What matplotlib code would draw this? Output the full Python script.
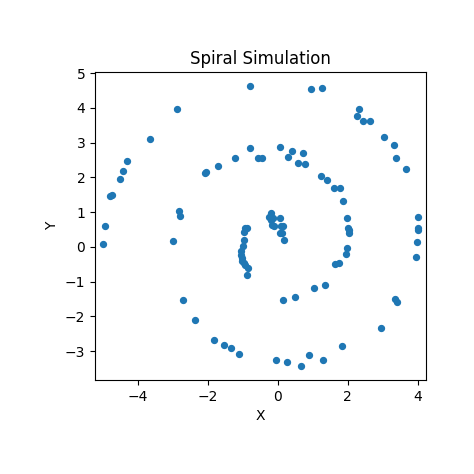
import numpy as np
import matplotlib
matplotlib.use("Agg")
import matplotlib.pyplot as plt

# outer arm of the spiral
outer_x = [-0.80, 0.94, 1.27, 2.32, 2.27, 2.45, 2.64, 3.05, 3.33, 3.38, 3.67,
           4.01, 4.00, 4.00, 3.97, 3.94, 3.36, 3.41, 2.95, 1.83, 1.29, 0.90,
           0.67, 0.26, -0.04, -1.11, -1.33, -1.53, -1.82, -2.36, -2.71,
           -2.87, -3.64, -4.31, -4.42, -4.51, -4.80, -4.74, -4.93, -4.98]
outer_y = [4.63, 4.55, 4.58, 3.96, 3.75, 3.62, 3.61, 3.17, 2.93, 2.57, 2.25,
           0.87, 0.54, 0.49, 0.15, -0.29, -1.49, -1.58, -2.32, -2.86, -3.26, -3.11,
           -3.43, -3.30, -3.26, -3.09, -2.90, -2.81, -2.68, -2.10, -1.53,
           3.97, 3.09, 2.48, 2.19, 1.96, 1.45, 1.48, 0.61, 0.07]

# middle arm
mid_x = [-3.00, -2.82, -2.80, -2.07, -2.04, -1.71, -1.23, -0.78, -0.56, -0.44,
         0.06, 0.42, 0.31, 0.72, 0.57, 0.79, 1.23, 1.42, 1.60, 1.78, 1.87,
         1.99, 2.01, 2.03, 2.03, 1.97, 1.94, 1.63, 1.74, 1.34, 1.05, 0.51, 0.15]
mid_y = [0.17, 1.03, 0.90, 2.13, 2.15, 2.33, 2.57, 2.85, 2.57, 2.55,
         2.88, 2.75, 2.58, 2.69, 2.40, 2.38, 2.05, 1.93, 1.68, 1.68, 1.33,
         0.84, 0.53, 0.48, 0.39, -0.02, -0.21, -0.50, -0.46, -1.09, -1.18, -1.45, -1.53]

# inner part near the centre
inner_x = [-0.20, -0.25, -0.18, -0.12, 0.06, -0.15, -0.10, 0.11, 0.15, 0.06,
           0.12, 0.17, -0.88, -0.92, -0.97, -0.97, -0.99, -1.06, -1.04, -1.03,
           -1.02, -0.97, -0.94, -0.85, -0.88]
inner_y = [0.96, 0.86, 0.77, 0.82, 0.82, 0.63, 0.61, 0.60, 0.59, 0.41,
           0.39, 0.19, 0.55, 0.54, 0.44, 0.19, 0.03, -0.13, -0.24, -0.32,
           -0.40, -0.46, -0.53, -0.62, -0.80]

x = np.array(outer_x + mid_x + inner_x)
y = np.array(outer_y + mid_y + inner_y)

fig = plt.figure(figsize=(4.74, 4.74), dpi=100)
ax = fig.add_axes([95 / 474, 94 / 474, 331 / 474, 308 / 474])
ax.scatter(x, y, s=18)
ax.set_xlim(-5.22, 4.24)
ax.set_ylim(-3.83, 5.03)
ax.set_xticks([-4, -2, 0, 2, 4])
ax.set_title("Spiral Simulation")
ax.set_xlabel("X")
ax.set_ylabel("Y")
fig.savefig("out.png", dpi=100)
